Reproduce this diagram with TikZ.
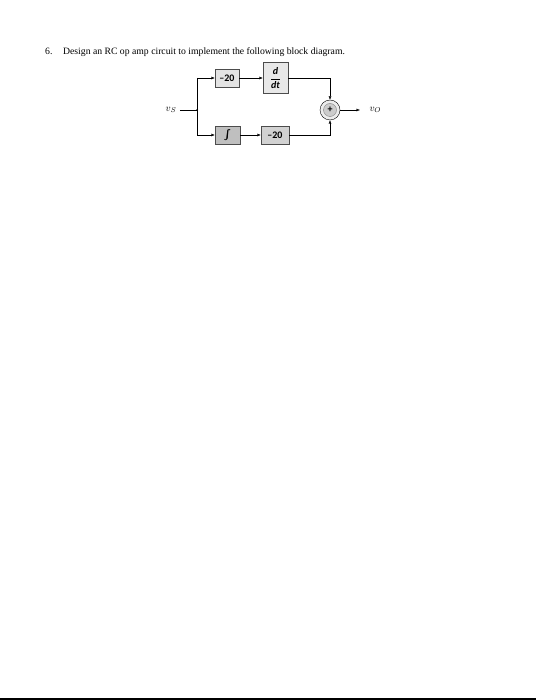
\documentclass[tikz,border=0pt]{standalone}
\usepackage{amsmath,bm}
\usepackage{fontspec}
\setmainfont{Liberation Serif}
\newfontfamily\boxfont{Carlito}
\usetikzlibrary{arrows.meta}
\tikzset{
  blk/.style={draw=black!70, fill=#1, minimum height=18pt, inner sep=0pt, font=\boxfont\bfseries},
  sig/.style={-{Latex[length=3.5pt,width=3pt]}},
}
\begin{document}
\begin{tikzpicture}[x=1pt,y=-1pt]
      \useasboundingbox (0,0) rectangle (536,700);
      \fill (0,697.5) rectangle (536,700);
      \node[anchor=west, inner sep=0pt, font=\fontsize{9.7}{11}\selectfont] (title) at (45,52) {6.\hspace{1.1em}Design an RC op amp circuit to implement the following block diagram.};
      \node (vs) at (171,110) {$v_S$};
      \coordinate (j) at (197,110);
      \coordinate (jt) at (197,78);
      \coordinate (jb) at (197,135);
      \node[blk=gray!22, minimum width=24pt] (g1) at (227,78) {\textendash20};
      \node[blk=gray!18, minimum width=25pt, minimum height=31pt] (dif) at (275.5,78) {$\dfrac{\textbf{\textit{d}}}{\textbf{\textit{dt}}}$};
      \node[blk=gray!50, minimum width=25pt] (int) at (227.5,135) {$\bm{\int}$};
      \node[blk=gray!35, minimum width=28pt] (g2) at (275,135) {\textendash20};
      \node[circle, draw, fill=gray!15, minimum size=20pt, inner sep=0pt] (sum) at (330,110) {};
      \node[circle, draw=gray, fill=gray!40, minimum size=13pt, inner sep=0pt, font=\boxfont\bfseries] (plus) at (sum) {+};
      \coordinate (out) at (360,110);
      \node[anchor=west] (vo) at (366,110) {$v_O$};
      \draw (vs.east) -- (j);
      \draw (jt) -- (jb);
      \fill (j) circle (1pt);
      \draw[sig] (jt) -- (g1);
      \draw[sig] (g1) -- (dif);
      \draw[sig] (dif.east) -| (sum.north);
      \draw[sig] (jb) -- (int);
      \draw[sig] (int) -- (g2);
      \draw[sig] (g2.east) -| (sum.south);
      \draw[sig] (sum) -- (out);
\end{tikzpicture}
\end{document}
